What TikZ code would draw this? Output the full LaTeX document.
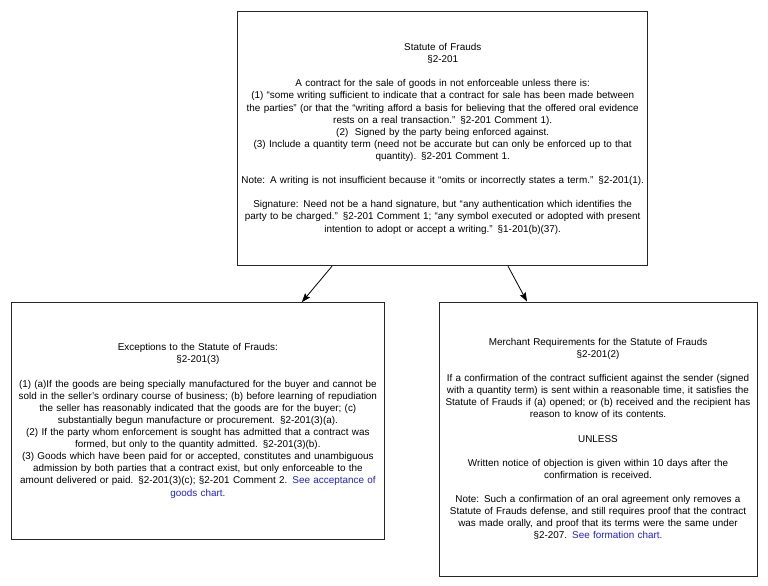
\documentclass[tikz,border=0pt]{standalone}
\usepackage{fontspec}
\setmainfont{Liberation Sans}
\usepackage{xcolor}
\usetikzlibrary{arrows.meta}
\definecolor{linkblue}{RGB}{30,30,230}
\newcommand{\chartfont}{\fontsize{9.9}{12.1}\selectfont}
\newcommand{\gap}{\\[12.1pt]}

\begin{document}
\begin{tikzpicture}[x=1pt,y=-1pt,
    lawbox/.style={draw=black!85,line width=1pt,align=center,inner sep=0pt,
      font=\chartfont},
    arr/.style={line width=0.8pt,-{Stealth[length=9pt,width=6.5pt,inset=1.5pt]}}]
  \useasboundingbox (0,0) rectangle (768,586);

  %% ── statute itself ──
  \node[lawbox,inner xsep=-9pt,minimum width=410,minimum height=254,text width=428]
    (sof) at (442.7,138.7)
    {Statute of Frauds\\
     §2-201\gap
     A contract for the sale of goods in not enforceable unless there is:\\
     (1) “some writing sufficient to indicate that a contract for sale has been made between\\
     the parties” (or that the “writing afford a basis for believing that the offered oral evidence\\
     rests on a real transaction.” §2-201 Comment 1).\\
     (2)\ \ Signed by the party being enforced against.\\
     (3) Include a quantity term (need not be accurate but can only be enforced up to that\\
     quantity). §2-201 Comment 1.\gap
     Note: A writing is not insufficient because it “omits or incorrectly states a term.” §2-201(1).\gap
     Signature: Need not be a hand signature, but “any authentication which identifies the\\
     party to be charged.” §2-201 Comment 1; “any symbol executed or adopted with present\\
     intention to adopt or accept a writing.” §1-201(b)(37).};

  %% ── exceptions ──
  \node[lawbox,minimum width=372.3,minimum height=236.3,text width=370]
    (exc) at (197.85,420.85)
    {Exceptions to the Statute of Frauds:\\
     §2-201(3)\gap
     (1) (a)If the goods are being specially manufactured for the buyer and cannot be\\
     sold in the seller’s ordinary course of business; (b) before learning of repudiation\\
     the seller has reasonably indicated that the goods are for the buyer; (c)\\
     substantially begun manufacture or procurement. §2-201(3)(a).\\
     (2) If the party whom enforcement is sought has admitted that a contract was\\
     formed, but only to the quantity admitted. §2-201(3)(b).\\
     (3) Goods which have been paid for or accepted, constitutes and unambiguous\\
     admission by both parties that a contract exist, but only enforceable to the\\
     amount delivered or paid. §2-201(3)(c); §2-201 Comment 2. \textcolor{linkblue}{See acceptance of}\\
     \textcolor{linkblue}{goods chart.}};

  %% ── merchants ──
  \node[lawbox,minimum width=318,minimum height=274,text width=316]
    (merch) at (598,439)
    {Merchant Requirements for the Statute of Frauds\\
     §2-201(2)\gap
     If a confirmation of the contract sufficient against the sender (signed\\
     with a quantity term) is sent within a reasonable time, it satisfies the\\
     Statute of Frauds if (a) opened; or (b) received and the recipient has\\
     reason to know of its contents.\gap
     UNLESS\gap
     Written notice of objection is given within 10 days after the\\
     confirmation is received.\gap
     Note: Such a confirmation of an oral agreement only removes a\\
     Statute of Frauds defense, and still requires proof that the contract\\
     was made orally, and proof that its terms were the same under\\
     §2-207. \textcolor{linkblue}{See formation chart.}};

  \draw[arr] ([xshift=-110.7]sof.south) -- ([xshift=104]exc.north);
  \draw[arr] ([xshift=65.3]sof.south) -- ([xshift=-71]merch.north);
\end{tikzpicture}
\end{document}
